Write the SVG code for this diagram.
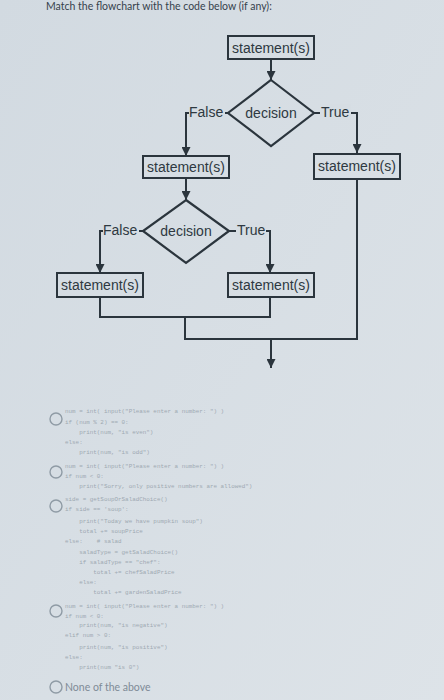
<svg xmlns="http://www.w3.org/2000/svg" width="444" height="700" viewBox="0 0 444 700">
<defs>
<linearGradient id="bg" x1="0" y1="0" x2="1" y2="1">
<stop offset="0" stop-color="#d2dae1"/>
<stop offset="1" stop-color="#dde3e8"/>
</linearGradient>
<marker id="ah" viewBox="0 0 10 10" refX="10" refY="5" markerWidth="4.5" markerHeight="4.5" orient="auto" markerUnits="strokeWidth">
<path d="M0,0 L10,5 L0,10 z" fill="#2b353d"/>
</marker>
</defs>
<style>
.box{fill:none;stroke:#2b353d;stroke-width:2}
.dia{fill:none;stroke:#2b353d;stroke-width:2.2}
.lbl{font-family:"Liberation Sans",Arial,sans-serif;font-size:14px;fill:#2e3941;text-anchor:middle}
.edge{font-family:"Liberation Sans",Arial,sans-serif;font-size:14px;fill:#2e3941}
.ln{fill:none;stroke:#2b353d;stroke-width:2}
.code{font-family:"Liberation Mono","Courier New",monospace;font-size:5.9px;fill:#9ea9b2;white-space:pre}
.radio{fill:none;stroke:#8f9ba5;stroke-width:1.4}
.title{font-family:Lato,"Liberation Sans",sans-serif;font-size:10.5px;fill:#36424c}
.none{font-family:Lato,"Liberation Sans",sans-serif;font-size:10.5px;fill:#7f8b97}
.lblbg{fill:#d6dde3}
</style>
<rect width="444" height="700" fill="url(#bg)"/>
<text class="title" x="46" y="10">Match the flowchart with the code below (if any):</text>

<g id="connectors">
<path class="ln" d="M271,59 V80" marker-end="url(#ah)"/>
<path class="ln" d="M228,113 H186 V156" marker-end="url(#ah)"/>
<path class="ln" d="M314,113 H357 V153" marker-end="url(#ah)"/>
<path class="ln" d="M186,178 V200" marker-end="url(#ah)"/>
<path class="ln" d="M143,231 H100 V273" marker-end="url(#ah)"/>
<path class="ln" d="M229,231 H270 V273" marker-end="url(#ah)"/>
<path class="ln" d="M100,297 V317 H270 V297"/>
<path class="ln" d="M185,317 V339 H357 V179"/>
<path class="ln" d="M271,339 V368" marker-end="url(#ah)"/>
<rect class="lblbg" x="189" y="104" width="36" height="16"/>
<text class="edge" x="189" y="117">False</text>
<rect class="lblbg" x="320" y="104" width="31" height="16"/>
<text class="edge" x="321" y="117">True</text>
<rect class="lblbg" x="103" y="222" width="36" height="16"/>
<text class="edge" x="103" y="235">False</text>
<rect class="lblbg" x="236" y="222" width="30" height="16"/>
<text class="edge" x="237" y="235">True</text>
</g>

<g id="start">
<rect class="box" x="228" y="36" width="86" height="23"/>
<text class="lbl" x="271" y="52.5">statement(s)</text>
</g>
<g id="decision1">
<polygon class="dia" points="271,80 314,113 271,146 228,113"/>
<text class="lbl" x="271" y="117.5">decision</text>
</g>
<g id="stmtFalse1">
<rect class="box" x="143" y="156" width="86" height="22"/>
<text class="lbl" x="186" y="172">statement(s)</text>
</g>
<g id="stmtTrue1">
<rect class="box" x="314" y="154" width="86" height="25"/>
<text class="lbl" x="357" y="171">statement(s)</text>
</g>
<g id="decision2">
<polygon class="dia" points="186,200 229,231 186,263 143,231"/>
<text class="lbl" x="186" y="235.5">decision</text>
</g>
<g id="stmtFalse2">
<rect class="box" x="57" y="273" width="86" height="24"/>
<text class="lbl" x="100" y="290">statement(s)</text>
</g>
<g id="stmtTrue2">
<rect class="box" x="228" y="273" width="86" height="24"/>
<text class="lbl" x="271" y="290">statement(s)</text>
</g>

<g id="options">
<circle class="radio" cx="56" cy="419" r="6"/>
<text class="code" x="65" y="413">num = int( input("Please enter a number: ") )</text>
<text class="code" x="65" y="424">if (num % 2) == 0:</text>
<text class="code" x="65" y="434">    print(num, "is even")</text>
<text class="code" x="65" y="444">else:</text>
<text class="code" x="65" y="454">    print(num, "is odd")</text>

<circle class="radio" cx="56" cy="472" r="6"/>
<text class="code" x="65" y="468">num = int( input("Please enter a number: ") )</text>
<text class="code" x="65" y="478">if num &lt; 0:</text>
<text class="code" x="65" y="488">    print("Sorry, only positive numbers are allowed")</text>

<circle class="radio" cx="56" cy="506" r="6"/>
<text class="code" x="65" y="501">side = getSoupOrSaladChoice()</text>
<text class="code" x="65" y="511">if side == 'soup':</text>
<text class="code" x="65" y="523">    print("Today we have pumpkin soup")</text>
<text class="code" x="65" y="533">    total += soupPrice</text>
<text class="code" x="65" y="543">else:    # salad</text>
<text class="code" x="65" y="554">    saladType = getSaladChoice()</text>
<text class="code" x="65" y="564">    if saladType == "chef":</text>
<text class="code" x="65" y="574">        total += chefSaladPrice</text>
<text class="code" x="65" y="584">    else:</text>
<text class="code" x="65" y="594">        total += gardenSaladPrice</text>

<circle class="radio" cx="56" cy="611" r="6"/>
<text class="code" x="65" y="608">num = int( input("Please enter a number: ") )</text>
<text class="code" x="65" y="618">if num &lt; 0:</text>
<text class="code" x="65" y="627">    print(num, "is negative")</text>
<text class="code" x="65" y="637">elif num &gt; 0:</text>
<text class="code" x="65" y="649">    print(num, "is positive")</text>
<text class="code" x="65" y="659">else:</text>
<text class="code" x="65" y="669">    print(num "is 0")</text>

<circle class="radio" cx="56" cy="687" r="6"/>
<text class="none" x="65" y="691">None of the above</text>
</g>
</svg>
